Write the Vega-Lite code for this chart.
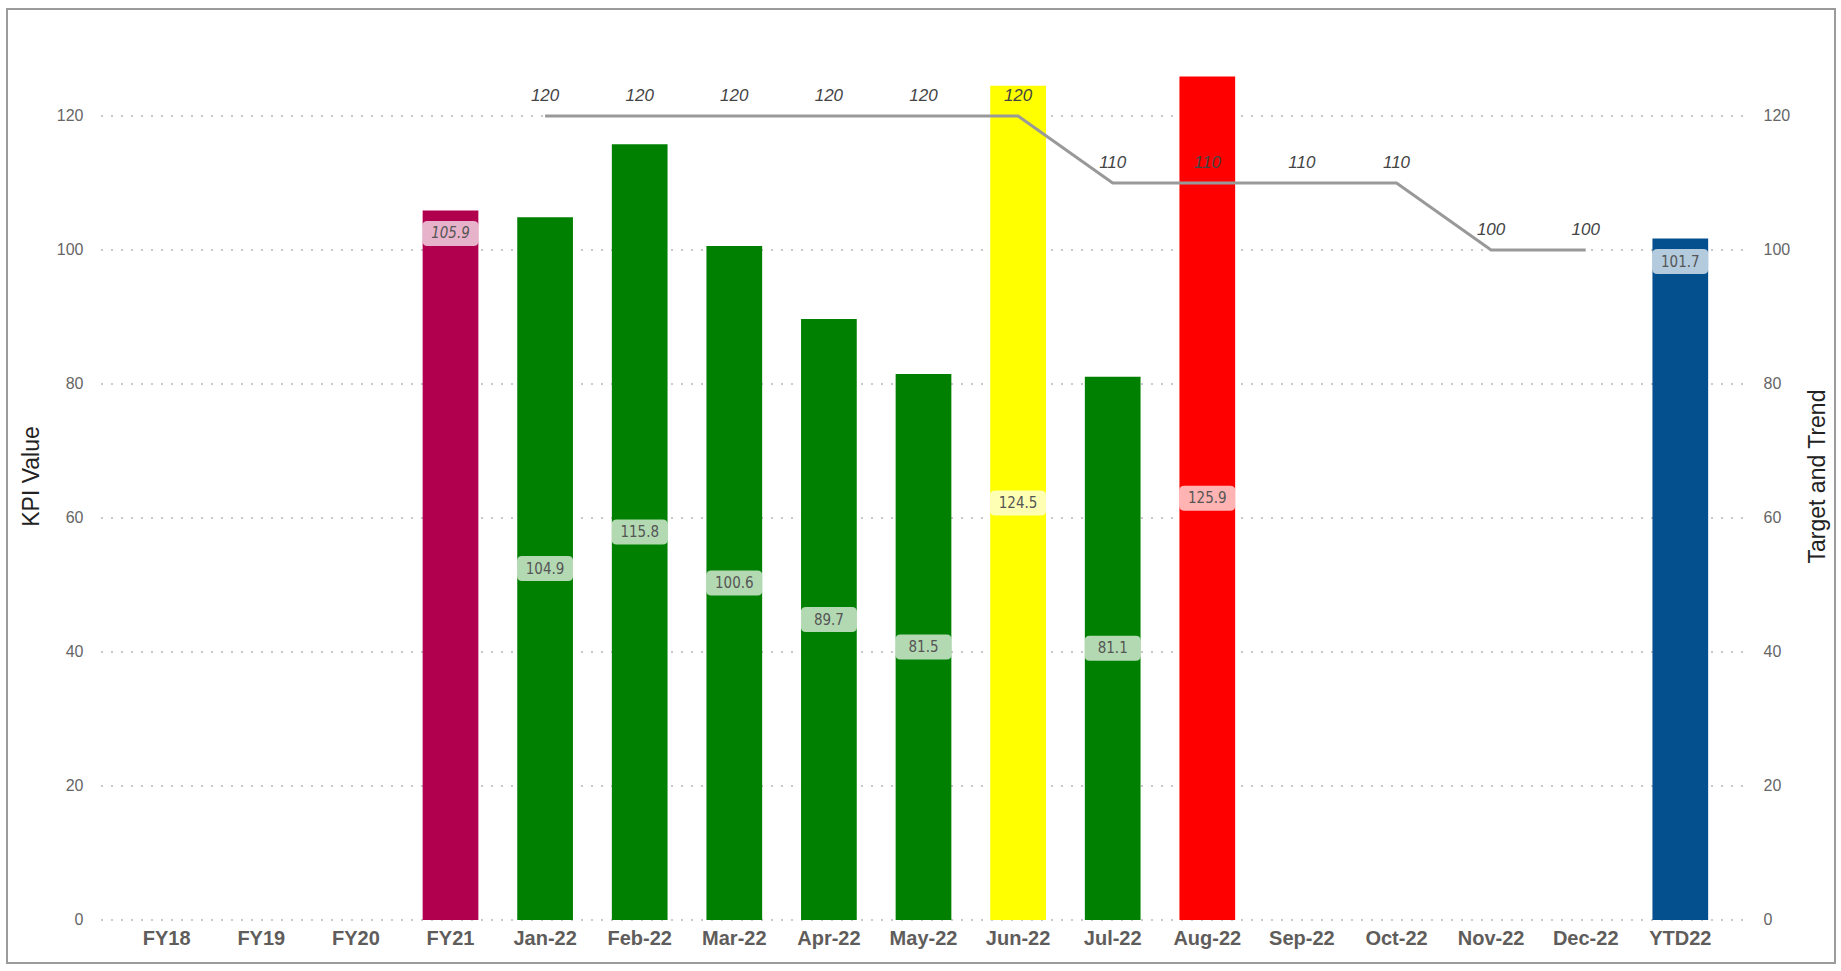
{
  "$schema": "https://vega.github.io/schema/vega-lite/v6.json",
  "width": 1828,
  "height": 954,
  "autosize": {"type": "none"},
  "padding": {"left": 7, "top": 9, "right": 6, "bottom": 8},
  "background": "#ffffff",
  "config": {
    "view": {"stroke": "#9b9b9b", "strokeWidth": 2},
    "font": "Liberation Sans"
  },
  "datasets": {
    "kpi": [
      {"cat": "FY18", "v": null, "status": "fy", "target": null},
      {"cat": "FY19", "v": null, "status": "fy", "target": null},
      {"cat": "FY20", "v": null, "status": "fy", "target": null},
      {"cat": "FY21", "v": 105.9, "status": "fy", "target": null},
      {"cat": "Jan-22", "v": 104.9, "status": "good", "target": 120},
      {"cat": "Feb-22", "v": 115.8, "status": "good", "target": 120},
      {"cat": "Mar-22", "v": 100.6, "status": "good", "target": 120},
      {"cat": "Apr-22", "v": 89.7, "status": "good", "target": 120},
      {"cat": "May-22", "v": 81.5, "status": "good", "target": 120},
      {"cat": "Jun-22", "v": 124.5, "status": "warn", "target": 120},
      {"cat": "Jul-22", "v": 81.1, "status": "good", "target": 110},
      {"cat": "Aug-22", "v": 125.9, "status": "bad", "target": 110},
      {"cat": "Sep-22", "v": null, "status": "good", "target": 110},
      {"cat": "Oct-22", "v": null, "status": "good", "target": 110},
      {"cat": "Nov-22", "v": null, "status": "good", "target": 100},
      {"cat": "Dec-22", "v": null, "status": "good", "target": 100},
      {"cat": "YTD22", "v": 101.7, "status": "ytd", "target": null}
    ],
    "grid": [{"g": 0}, {"g": 20}, {"g": 40}, {"g": 60}, {"g": 80}, {"g": 100}, {"g": 120}]
  },
  "encoding": {
    "x": {
      "field": "cat",
      "type": "nominal",
      "sort": null,
      "scale": {
        "domain": ["FY18", "FY19", "FY20", "FY21", "Jan-22", "Feb-22", "Mar-22", "Apr-22", "May-22", "Jun-22", "Jul-22", "Aug-22", "Sep-22", "Oct-22", "Nov-22", "Dec-22", "YTD22"],
        "range": [94, 1739],
        "paddingInner": 0.411,
        "paddingOuter": 0.4
      },
      "axis": {
        "title": null,
        "orient": "bottom",
        "offset": -25,
        "ticks": false,
        "tickSize": 0,
        "domain": false,
        "grid": false,
        "labelAngle": 0,
        "labelPadding": 0,
        "labelBaseline": "middle",
        "labelFont": "Liberation Sans",
        "labelFontWeight": "bold",
        "labelFontSize": 20,
        "labelColor": "#5f5d5b"
      }
    }
  },
  "layer": [
    {
      "data": {"name": "grid"},
      "mark": {"type": "rule", "color": "#c9c9c9", "strokeWidth": 2, "strokeDash": [2, 8]},
      "encoding": {
        "x": {"datum": "FY18", "type": "nominal", "bandPosition": -0.679},
        "x2": {"datum": "YTD22", "bandPosition": 1.68},
        "y": {"field": "g", "type": "quantitative", "scale": {"domain": [-6.418, 135.97], "nice": false, "zero": false}, "axis": null}
      }
    },
    {
      "data": {"name": "kpi"},
      "transform": [{"filter": "datum.v != null"}],
      "mark": {"type": "bar"},
      "encoding": {
        "y": {
          "field": "v",
          "type": "quantitative",
          "scale": {"domain": [-6.418, 135.97], "nice": false, "zero": false},
          "axis": {
            "orient": "left",
            "title": "KPI Value",
            "values": [0, 20, 40, 60, 80, 100, 120],
            "offset": -78,
            "ticks": false,
            "tickSize": 0,
            "domain": false,
            "grid": false,
            "labelPadding": 2,
            "labelFont": "Liberation Sans",
            "labelFontSize": 16,
            "labelColor": "#666666",
            "titleFont": "Liberation Sans",
            "titleFontSize": 23,
            "titleFontWeight": "normal",
            "titleColor": "#222222",
            "titleAngle": 270,
            "titleAlign": "center",
            "titleBaseline": "middle",
            "titleX": -54,
            "titleY": 467
          }
        },
        "y2": {"datum": 0},
        "color": {
          "field": "status",
          "type": "nominal",
          "scale": {"domain": ["fy", "good", "warn", "bad", "ytd"], "range": ["#B0004E", "#008000", "#FFFF00", "#FF0000", "#04508F"]},
          "legend": null
        }
      }
    },
    {
      "data": {"name": "kpi"},
      "transform": [{"filter": "datum.target != null"}],
      "mark": {"type": "line", "color": "#999999", "strokeWidth": 3},
      "encoding": {
        "y": {
          "field": "target",
          "type": "quantitative",
          "scale": {"domain": [-6.418, 135.97], "nice": false, "zero": false},
          "axis": {
            "orient": "right",
            "title": "Target and Trend",
            "values": [0, 20, 40, 60, 80, 100, 120],
            "offset": -74,
            "ticks": false,
            "tickSize": 0,
            "domain": false,
            "grid": false,
            "labelPadding": 2,
            "labelFont": "Liberation Sans",
            "labelFontSize": 16,
            "labelColor": "#666666",
            "titleFont": "Liberation Sans",
            "titleFontSize": 23,
            "titleFontWeight": "normal",
            "titleColor": "#222222",
            "titleAngle": 270,
            "titleAlign": "center",
            "titleBaseline": "middle",
            "titleX": 56,
            "titleY": 467
          }
        }
      }
    },
    {
      "data": {"name": "kpi"},
      "transform": [{"filter": "datum.target != null"}],
      "mark": {"type": "text", "dy": -20, "fontStyle": "italic", "fontSize": 17, "color": "#444444", "font": "Liberation Sans", "baseline": "middle"},
      "encoding": {
        "y": {"field": "target", "type": "quantitative", "scale": {"domain": [-6.418, 135.97], "nice": false, "zero": false}, "axis": null},
        "text": {"field": "target", "type": "quantitative", "format": "d"}
      }
    },
    {
      "data": {"name": "kpi"},
      "transform": [{"filter": "datum.v != null && (datum.status == 'fy' || datum.status == 'ytd')"}],
      "mark": {
        "type": "point",
        "shape": "M-0.82,-0.446L0.82,-0.446Q1,-0.446 1,-0.267L1,0.267Q1,0.446 0.82,0.446L-0.82,0.446Q-1,0.446 -1,0.267L-1,-0.267Q-1,-0.446 -0.82,-0.446Z",
        "size": 3136,
        "filled": true,
        "fill": "#ffffff",
        "fillOpacity": 0.7,
        "strokeWidth": 0,
        "opacity": 1,
        "yOffset": 23
      },
      "encoding": {
        "y": {"field": "v", "type": "quantitative", "scale": {"domain": [-6.418, 135.97], "nice": false, "zero": false}, "axis": null}
      }
    },
    {
      "data": {"name": "kpi"},
      "transform": [{"filter": "datum.v != null && datum.status != 'fy' && datum.status != 'ytd'"}],
      "mark": {
        "type": "point",
        "shape": "M-0.82,-0.446L0.82,-0.446Q1,-0.446 1,-0.267L1,0.267Q1,0.446 0.82,0.446L-0.82,0.446Q-1,0.446 -1,0.267L-1,-0.267Q-1,-0.446 -0.82,-0.446Z",
        "size": 3136,
        "filled": true,
        "fill": "#ffffff",
        "fillOpacity": 0.7,
        "strokeWidth": 0,
        "opacity": 1
      },
      "encoding": {
        "y": {"field": "v", "type": "quantitative", "scale": {"domain": [-12.836, 271.94], "nice": false, "zero": false}, "axis": null}
      }
    },
    {
      "data": {"name": "kpi"},
      "transform": [{"filter": "datum.cat == 'FY21'"}],
      "mark": {"type": "text", "yOffset": 23, "fontStyle": "italic", "fontSize": 15, "color": "#555555", "font": "Liberation Sans Narrow, DejaVu Sans Condensed, sans-serif", "baseline": "middle"},
      "encoding": {
        "y": {"field": "v", "type": "quantitative", "scale": {"domain": [-6.418, 135.97], "nice": false, "zero": false}, "axis": null},
        "text": {"field": "v", "type": "quantitative", "format": ".1f"}
      }
    },
    {
      "data": {"name": "kpi"},
      "transform": [{"filter": "datum.cat == 'YTD22'"}],
      "mark": {"type": "text", "yOffset": 23, "fontSize": 15, "color": "#555555", "font": "Liberation Sans Narrow, DejaVu Sans Condensed, sans-serif", "baseline": "middle"},
      "encoding": {
        "y": {"field": "v", "type": "quantitative", "scale": {"domain": [-6.418, 135.97], "nice": false, "zero": false}, "axis": null},
        "text": {"field": "v", "type": "quantitative", "format": ".1f"}
      }
    },
    {
      "data": {"name": "kpi"},
      "transform": [{"filter": "datum.v != null && datum.status != 'fy' && datum.status != 'ytd'"}],
      "mark": {"type": "text", "fontSize": 15, "color": "#555555", "font": "Liberation Sans Narrow, DejaVu Sans Condensed, sans-serif", "baseline": "middle"},
      "encoding": {
        "y": {"field": "v", "type": "quantitative", "scale": {"domain": [-12.836, 271.94], "nice": false, "zero": false}, "axis": null},
        "text": {"field": "v", "type": "quantitative", "format": ".1f"}
      }
    }
  ],
  "resolve": {"scale": {"y": "independent"}, "axis": {"y": "independent"}}
}
